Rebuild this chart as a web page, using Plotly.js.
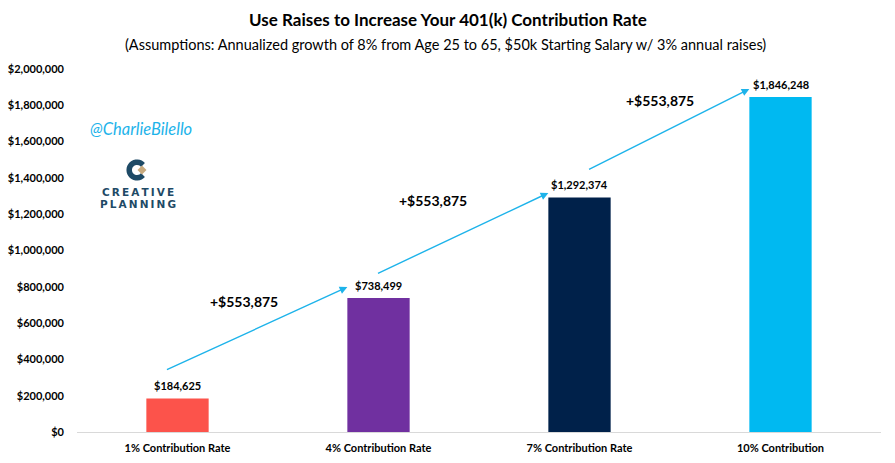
<!DOCTYPE html>
<html>
<head>
<meta charset="utf-8">
<script src="https://cdn.plot.ly/plotly-3.0.1.min.js"></script>
<style>html,body{margin:0;padding:0;background:#fff;}#chart{width:895px;height:463px;}</style>
</head>
<body>
<div id="chart"></div>
<script>
// ---- data ----
const categories = ['1% Contribution Rate', '4% Contribution Rate', '7% Contribution Rate', '10% Contribution'];
const values = [184625, 738499, 1292374, 1846248];
const barColors = ['#FC534B', '#7030A0', '#00214A', '#00B9F1'];
const diffLabels = ['+$553,875', '+$553,875', '+$553,875'];
const yTickVals = [0, 200000, 400000, 600000, 800000, 1000000, 1200000, 1400000, 1600000, 1800000, 2000000];
const yTickText = ['$0', '$200,000', '$400,000', '$600,000', '$800,000', '$1,000,000', '$1,200,000', '$1,400,000', '$1,600,000', '$1,800,000', '$2,000,000'];

const numFont = 'Lato, "Open Sans", sans-serif';
const arrowColor = '#1DB3EA';
const xIdx = categories.map((c, i) => i);

// plot area in pixels (for paper-coordinate conversions of decorations)
const L = 77, R = 881, T = 69, B = 432;
const px = (x) => (x - L) / (R - L);
const py = (y) => (B - y) / (B - T);

const annotations = [];
values.forEach((v, i) => {
  annotations.push({
    x: i, y: v, xref: 'x', yref: 'y', yanchor: 'bottom', yshift: 4,
    text: '$' + v.toLocaleString('en-US'), showarrow: false,
    font: {family: numFont, size: 11, color: '#000', weight: 'bold'}
  });
});
const diffXOff = [0.33, 0.27, 0.40];
const tailXOff = [-0.06, -0.01, 0.04];
const tailYOff = [155000, 132000, 150000];
const headYOff = [60000, 25000, 44000];
for (let i = 0; i < values.length - 1; i++) {
  annotations.push({
    x: i + 0.845, y: values[i + 1] + headYOff[i], xref: 'x', yref: 'y',
    ax: i + tailXOff[i], ay: values[i] + tailYOff[i], axref: 'x', ayref: 'y',
    text: '', showarrow: true, arrowhead: 2, arrowsize: 1.1, arrowwidth: 1.4,
    arrowcolor: arrowColor, standoff: 0, startstandoff: 0
  });
  annotations.push({
    x: i + diffXOff[i], y: values[i] + 535000, xref: 'x', yref: 'y',
    text: diffLabels[i], showarrow: false,
    font: {family: numFont, size: 14, color: '#000', weight: 'bold'}
  });
}
annotations.push({
  x: px(445), y: py(44), xref: 'paper', yref: 'paper', yanchor: 'middle', xanchor: 'center',
  text: '(Assumptions: Annualized growth of 8% from Age 25 to 65, $50k Starting Salary w/ 3% annual raises)',
  showarrow: false, font: {family: numFont, size: 14.5, color: '#000'}
});
annotations.push({
  x: px(141), y: py(129), xref: 'paper', yref: 'paper', xanchor: 'center', yanchor: 'middle',
  text: '<i>@CharlieBilello</i>', showarrow: false,
  font: {family: numFont, size: 16.5, color: '#1DB3EA'}
});
const spaced = (s) => s.split('').join('\u2009');
annotations.push({
  x: px(138), y: py(192), xref: 'paper', yref: 'paper', xanchor: 'center', yanchor: 'middle',
  text: spaced('CREATIVE'), showarrow: false,
  font: {family: 'DejaVu Sans', size: 10.5, color: '#1E4A66', weight: 'bold'}
});
annotations.push({
  x: px(138), y: py(204), xref: 'paper', yref: 'paper', xanchor: 'center', yanchor: 'middle',
  text: spaced('PLANNING'), showarrow: false,
  font: {family: 'DejaVu Sans', size: 10.5, color: '#1E4A66', weight: 'bold'}
});

// logo "C": polyline arc (pixel-sized, anchored in paper coords)
let arc = '';
for (let k = 0; k <= 24; k++) {
  const a = (40 + k * (280 / 24)) * Math.PI / 180;
  const xx = 7.8 * Math.cos(a), yy = 7.8 * Math.sin(a);
  arc += (k === 0 ? 'M ' : ' L ') + xx.toFixed(2) + ' ' + yy.toFixed(2);
}
const shapes = [
  {type: 'path', xref: 'paper', yref: 'paper', xsizemode: 'pixel', ysizemode: 'pixel',
   xanchor: px(137), yanchor: py(170), path: arc,
   line: {color: '#1E4A66', width: 5.5}},
  {type: 'path', xref: 'paper', yref: 'paper', xsizemode: 'pixel', ysizemode: 'pixel',
   xanchor: px(137), yanchor: py(170),
   path: 'M 0.5 0 L 5 4.5 L 9.5 0 L 5 -4.5 Z',
   fillcolor: '#C8AA7E', line: {width: 0}}
];

const trace = {
  type: 'bar', x: xIdx, y: values, width: 0.31,
  marker: {color: barColors}, hoverinfo: 'none'
};

const layout = {
  width: 895, height: 463,
  margin: {l: L, r: 895 - R, t: T, b: 463 - B},
  paper_bgcolor: '#fff', plot_bgcolor: '#fff',
  showlegend: false,
  title: {text: '<b>Use Raises to Increase Your 401(k) Contribution Rate</b>', x: 448 / 895, xanchor: 'center',
          xref: 'container', y: 1 - 20 / 463, yanchor: 'middle',
          font: {family: numFont, size: 17, color: '#000'}},
  xaxis: {range: [-0.5, 3.5], tickvals: xIdx, ticktext: categories, showgrid: false, zeroline: false,
          showline: true, linecolor: '#D9D9D9', linewidth: 1, ticks: '', ticklabelstandoff: 6,
          tickfont: {family: numFont, size: 11, color: '#000', weight: 'bold'}, fixedrange: true},
  yaxis: {range: [0, 2000000], tickvals: yTickVals, ticktext: yTickText, showgrid: false, zeroline: false,
          showline: false, ticks: '', ticklabelstandoff: 12,
          tickfont: {family: numFont, size: 11, color: '#000', weight: 'bold'}, fixedrange: true},
  annotations: annotations,
  shapes: shapes
};

Plotly.newPlot('chart', [trace], layout, {displayModeBar: false, staticPlot: true});
</script>
</body>
</html>
